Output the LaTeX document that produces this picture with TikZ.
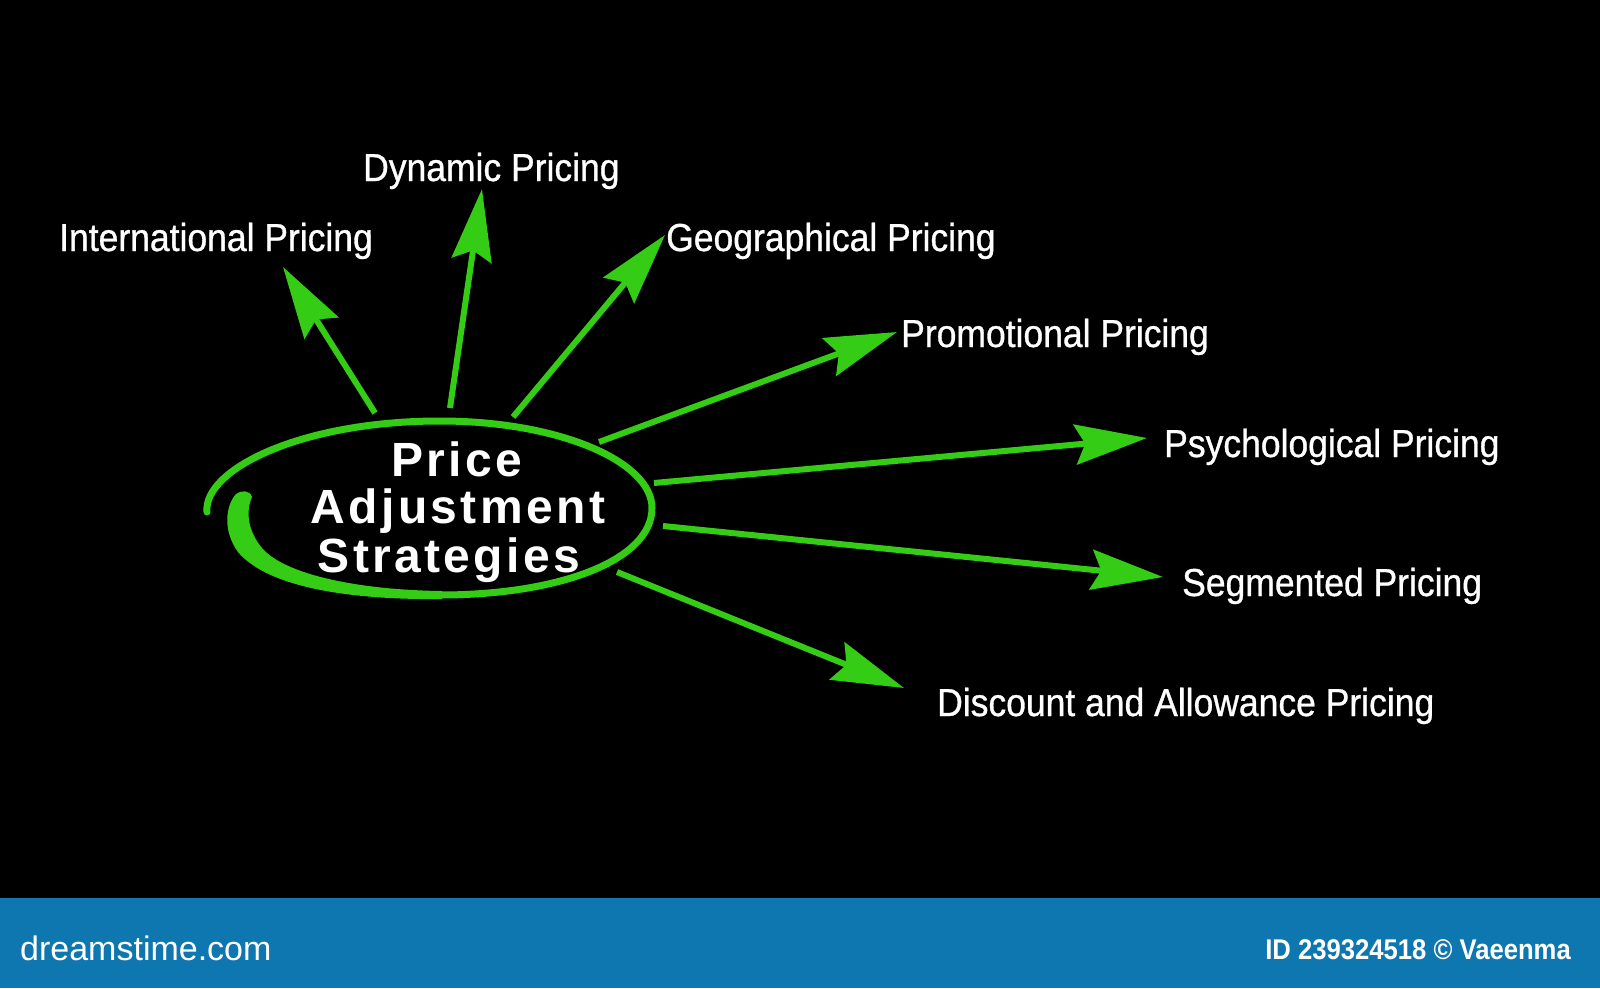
\documentclass[tikz,border=0pt]{standalone}
\usepackage{fontspec}
\setmainfont{Liberation Sans}
\newfontfamily\labelfont[FakeStretch=0.91,FakeBold=0.8]{Liberation Sans}
\newfontfamily\idfont[FakeStretch=0.9]{Liberation Sans}
\newfontfamily\titlefont[LetterSpace=7]{Liberation Sans}
\usetikzlibrary{arrows.meta}
\definecolor{mygreen}{RGB}{52,204,20}
\definecolor{barblue}{RGB}{15,119,176}
\begin{document}
\begin{tikzpicture}[x=1pt,y=-1pt,
  lbl/.style={anchor=base west,inner sep=0pt,text=white,font=\labelfont\fontsize{39}{39}\selectfont},
  ttl/.style={anchor=base,inner sep=0pt,text=white,font=\titlefont\bfseries\fontsize{48}{48}\selectfont},
  garrow/.style={draw=mygreen,line width=6pt,-{Stealth[length=72pt,width=40pt,inset=10pt,fill=mygreen]}},
  ring/.style={draw=mygreen,line cap=round}]
\useasboundingbox (0,0) rectangle (1600,988);
\fill[black] (0,0) rectangle (1600,988);
% bottom bar
\fill[barblue] (0,898) rectangle (1600,988);
\node[anchor=base west,inner sep=0pt,text=white,font=\fontsize{34}{34}\selectfont] (site) at (20,960) {dreamstime.com};
\node[anchor=base east,inner sep=0pt,text=white,font=\idfont\bfseries\fontsize{28.5}{28.5}\selectfont] (idtxt) at (1571,959) {ID 239324518 © Vaeenma};
% ring
\draw[ring,line width=7pt] (207,512) .. controls (203,470) and (300,421) .. (440,421)
  .. controls (560,421) and (652,462) .. (652,508)
  .. controls (652,560) and (560,595) .. (440,595);
\fill[mygreen] (236,494) .. controls (226,505) and (222,530) .. (238,552)
  .. controls (270,590) and (360,600) .. (442,599) -- (442,591)
  .. controls (360,590) and (285,575) .. (262,548)
  .. controls (247,530) and (246,510) .. (252,497)
  .. controls (250,490) and (241,490) .. (236,494) -- cycle;
% title
\node[ttl] (t1) at (457,476) {Price};
\node[ttl] (t2) at (458,523) {Adjustment};
\node[ttl] (t3) at (449,572) {Strategies};
% labels
\node[lbl] (intl) at (59,251) {International Pricing};
\node[lbl] (dyn) at (363,181) {Dynamic Pricing};
\node[lbl] (geo) at (666,251) {Geographical Pricing};
\node[lbl] (promo) at (901,347) {Promotional Pricing};
\node[lbl] (psych) at (1164,457) {Psychological Pricing};
\node[lbl] (seg) at (1182,596) {Segmented Pricing};
\node[lbl] (disc) at (937,716) {Discount and Allowance Pricing};
% arrow ends
\coordinate (s1) at (375,413); \coordinate (e1) at (283,267);
\coordinate (s2) at (450,408); \coordinate (e2) at (482,189);
\coordinate (s3) at (513,417); \coordinate (e3) at (665,235);
\coordinate (s4) at (599,442); \coordinate (e4) at (897,332);
\coordinate (s5) at (654,483); \coordinate (e5) at (1147,438);
\coordinate (s6) at (663,526); \coordinate (e6) at (1163,577);
\coordinate (s7) at (617,572); \coordinate (e7) at (904,688);
\foreach \i in {1,...,7} {\draw[garrow] (s\i) -- (e\i);}
\end{tikzpicture}
\end{document}
